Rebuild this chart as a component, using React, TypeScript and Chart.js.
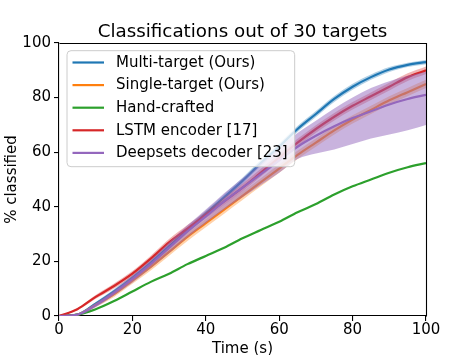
import React, { useEffect, useRef } from 'react';
import { Chart, registerables } from 'chart.js';

Chart.register(...registerables);

// ---------------- data ----------------
const chartTitle = 'Classifications out of 30 targets';
const xAxisLabel = 'Time (s)';
const yAxisLabel = '% classified';
const xTicks = [0, 20, 40, 60, 80, 100];
const yTicks = [0, 20, 40, 60, 80, 100];

const timeS = [0, 5, 10, 15, 20, 25, 30, 35, 40, 45, 50, 55, 60, 65, 70, 75, 80, 85, 90, 95, 100];

const seriesLabels = [
  'Multi-target (Ours)',
  'Single-target (Ours)',
  'Hand-crafted',
  'LSTM encoder [17]',
  'Deepsets decoder [23]',
];

const multiTarget = [0, 0.5, 4.5, 9, 14, 19.5, 25.5, 31.5, 37.5, 43.5, 49.5, 56, 62, 68.5, 74, 79.5, 84, 87.5, 90.3, 92, 93];
const multiTargetSpread = [0, 0.3, 0.6, 0.8, 0.9, 1, 1.1, 1.1, 1.1, 1.1, 1.1, 1.1, 1.1, 1.1, 1.1, 1.1, 1.1, 1, 0.9, 0.8, 0.8];

const singleTarget = [0, 0.5, 4, 8, 13, 18, 23.5, 29, 34, 39, 44, 49, 54, 59, 63.5, 68, 72, 75.5, 79, 82, 85];
const singleTargetSpread = [0, 0.3, 0.7, 1, 1.2, 1.3, 1.4, 1.5, 1.5, 1.5, 1.5, 1.5, 1.5, 1.5, 1.5, 1.5, 1.5, 1.5, 1.5, 1.5, 1.5];

const handCrafted = [0, 0.5, 2.5, 5.5, 9, 12.5, 15.5, 19, 22, 25, 28.5, 31.5, 34.5, 38, 41, 44.5, 47.5, 50, 52.5, 54.5, 56];

const lstmEncoder = [0, 2.5, 7, 11, 15.5, 21, 27, 32, 37, 42, 47, 52.5, 58, 63.5, 68.5, 73, 77, 80.5, 84, 87.5, 90];
const lstmEncoderSpread = [0, 0.4, 0.7, 0.9, 1, 1.1, 1.2, 1.3, 1.3, 1.4, 1.4, 1.4, 1.4, 1.4, 1.4, 1.4, 1.4, 1.4, 1.4, 1.4, 1.4];

const deepsetsDecoder = [0, 0.5, 4, 8.5, 13.5, 19, 25, 31, 36.5, 42, 47, 52, 57, 62, 66, 69.5, 72.5, 75, 77.5, 79.5, 81];
const deepsetsLower = [0, 0.2, 3.2, 7.5, 12.2, 17.5, 23, 28.8, 34, 39, 43.5, 48, 52.5, 57.5, 59.5, 61, 63, 65, 66.5, 68, 70];
const deepsetsUpper = [0, 0.8, 4.8, 9.5, 14.8, 20.5, 27, 33.2, 39, 45, 50.5, 56, 61.5, 67, 71.5, 76, 80, 83.5, 86, 88, 89.5];

// ---------------- styles ----------------
const FONT = "'DejaVu Sans', 'Liberation Sans', sans-serif";
const COLORS = ['#1f77b4', '#ff7f0e', '#2ca02c', '#d62728', '#9467bd'];
const BAND_COLORS = [
  'rgba(31,119,180,0.35)',
  'rgba(255,127,14,0.35)',
  'rgba(44,160,44,0.3)',
  'rgba(214,39,40,0.35)',
  'rgba(148,103,189,0.5)',
];

const pts = (ys: number[]) => timeS.map((t, i) => ({ x: t, y: ys[i] }));

function bandSets(lo: number[], hi: number[], color: string, order: number) {
  return [
    {
      label: '_lo',
      data: pts(lo),
      borderWidth: 0,
      borderColor: 'rgba(0,0,0,0)',
      pointRadius: 0,
      fill: false,
      order: order,
      cubicInterpolationMode: 'monotone',
    },
    {
      label: '_hi',
      data: pts(hi),
      borderWidth: 0,
      borderColor: 'rgba(0,0,0,0)',
      backgroundColor: color,
      pointRadius: 0,
      fill: '-1',
      order: order - 1,
      cubicInterpolationMode: 'monotone',
    },
  ];
}

function mainLine(label: string, ys: number[], color: string, order: number) {
  return {
    label,
    data: pts(ys),
    borderColor: color,
    borderWidth: 2.2,
    pointRadius: 0,
    fill: false,
    order,
    cubicInterpolationMode: 'monotone',
  };
}

const frameAndLegend = {
  id: 'frameAndLegend',
  afterDatasetsDraw(chart: any) {
    const { ctx, chartArea: a } = chart;
    ctx.save();
    ctx.strokeStyle = '#000';
    ctx.lineWidth = 1.1;
    ctx.beginPath();
    ctx.moveTo(Math.round(a.left) + 0.5, Math.round(a.top) + 0.5);
    ctx.lineTo(Math.round(a.right) + 0.5, Math.round(a.top) + 0.5);
    ctx.lineTo(Math.round(a.right) + 0.5, Math.round(a.bottom) + 0.5);
    ctx.stroke();
    ctx.restore();
  },
  afterDraw(chart: any) {
    const { ctx, chartArea: a } = chart;
    ctx.save();
    // title, centred over the plot area
    ctx.font = `18.3px ${FONT}`;
    ctx.fillStyle = '#000';
    ctx.textAlign = 'center';
    ctx.textBaseline = 'alphabetic';
    ctx.fillText(chartTitle, (a.left + a.right) / 2, 36.7);

    // legend
    ctx.font = `15px ${FONT}`;
    const maxW = Math.max(...seriesLabels.map((l) => ctx.measureText(l).width));
    const x0 = a.left + 8;
    const y0 = a.top + 7.7;
    const w = 49 + maxW + 7;
    const h = 116;
    const r = 4;
    ctx.beginPath();
    ctx.moveTo(x0 + r, y0);
    ctx.lineTo(x0 + w - r, y0);
    ctx.quadraticCurveTo(x0 + w, y0, x0 + w, y0 + r);
    ctx.lineTo(x0 + w, y0 + h - r);
    ctx.quadraticCurveTo(x0 + w, y0 + h, x0 + w - r, y0 + h);
    ctx.lineTo(x0 + r, y0 + h);
    ctx.quadraticCurveTo(x0, y0 + h, x0, y0 + h - r);
    ctx.lineTo(x0, y0 + r);
    ctx.quadraticCurveTo(x0, y0, x0 + r, y0);
    ctx.closePath();
    ctx.fillStyle = 'rgba(255,255,255,0.8)';
    ctx.fill();
    ctx.strokeStyle = '#cccccc';
    ctx.lineWidth = 1;
    ctx.stroke();
    ctx.textBaseline = 'middle';
    ctx.textAlign = 'left';
    seriesLabels.forEach((label, i) => {
      const y = y0 + 11.8 + i * 22.6;
      ctx.strokeStyle = COLORS[i];
      ctx.lineWidth = 2.2;
      ctx.beginPath();
      ctx.moveTo(x0 + 5.5, y);
      ctx.lineTo(x0 + 37, y);
      ctx.stroke();
      ctx.fillStyle = '#000';
      ctx.fillText(label, x0 + 49, y + 0.5);
    });
    ctx.restore();
  },
};

export default function App() {
  const canvasRef = useRef<HTMLCanvasElement | null>(null);

  useEffect(() => {
    const canvas = canvasRef.current;
    if (!canvas) return;

    const datasets: any[] = [
      ...bandSets(
        multiTarget.map((v, i) => v - multiTargetSpread[i]),
        multiTarget.map((v, i) => v + multiTargetSpread[i]),
        BAND_COLORS[0],
        100
      ),
      mainLine(seriesLabels[0], multiTarget, COLORS[0], 97),
      ...bandSets(
        singleTarget.map((v, i) => v - singleTargetSpread[i]),
        singleTarget.map((v, i) => v + singleTargetSpread[i]),
        BAND_COLORS[1],
        90
      ),
      mainLine(seriesLabels[1], singleTarget, COLORS[1], 87),
      mainLine(seriesLabels[2], handCrafted, COLORS[2], 80),
      ...bandSets(
        lstmEncoder.map((v, i) => v - lstmEncoderSpread[i]),
        lstmEncoder.map((v, i) => v + lstmEncoderSpread[i]),
        BAND_COLORS[3],
        70
      ),
      mainLine(seriesLabels[3], lstmEncoder, COLORS[3], 67),
      ...bandSets(deepsetsLower, deepsetsUpper, BAND_COLORS[4], 60),
      mainLine(seriesLabels[4], deepsetsDecoder, COLORS[4], 57),
    ];

    const tickFont = { family: FONT, size: 15 };

    const chart = new Chart(canvas, {
      type: 'line',
      data: { datasets },
      options: {
        responsive: false,
        animation: false,
        events: [],
        layout: { padding: { left: 0, right: 48, top: 43, bottom: 0 } },
        plugins: {
          legend: { display: false },
          tooltip: { enabled: false },
          title: { display: false },
          filler: { propagate: false, drawTime: 'beforeDatasetDraw' },
        } as any,
        scales: {
          x: {
            type: 'linear',
            min: 0,
            max: 100,
            afterFit: (s: any) => {
              s.height = 39;
            },
            afterBuildTicks: (s: any) => {
              s.ticks = xTicks.map((v) => ({ value: v }));
            },
            ticks: { font: tickFont, color: '#000', padding: 0, maxRotation: 0, autoSkip: false },
            grid: { drawOnChartArea: false, drawTicks: true, tickLength: 5, color: '#000', lineWidth: 1.1 },
            border: { display: true, color: '#000', width: 1.1 },
            title: {
              display: true,
              text: xAxisLabel,
              color: '#000',
              font: { family: FONT, size: 15, lineHeight: 0.8 },
              padding: { top: 0, bottom: 0 },
            },
          },
          y: {
            type: 'linear',
            min: 0,
            max: 100,
            afterFit: (s: any) => {
              s.width = 59;
            },
            afterBuildTicks: (s: any) => {
              s.ticks = yTicks.map((v) => ({ value: v }));
            },
            ticks: { font: tickFont, color: '#000', padding: 3, autoSkip: false },
            grid: { drawOnChartArea: false, drawTicks: true, tickLength: 5, color: '#000', lineWidth: 1.1 },
            border: { display: true, color: '#000', width: 1.1 },
            title: {
              display: true,
              text: yAxisLabel,
              color: '#000',
              font: { family: FONT, size: 15, lineHeight: 1.2 },
              padding: { top: 3, bottom: 0 },
            },
          },
        },
      } as any,
      plugins: [frameAndLegend],
    });

    return () => chart.destroy();
  }, []);

  return (
    <div style={{ position: 'absolute', left: 0, top: 0, width: 474, height: 355, background: '#fff' }}>
      <canvas ref={canvasRef} width={474} height={355} style={{ display: 'block', width: 474, height: 355 }} />
    </div>
  );
}
